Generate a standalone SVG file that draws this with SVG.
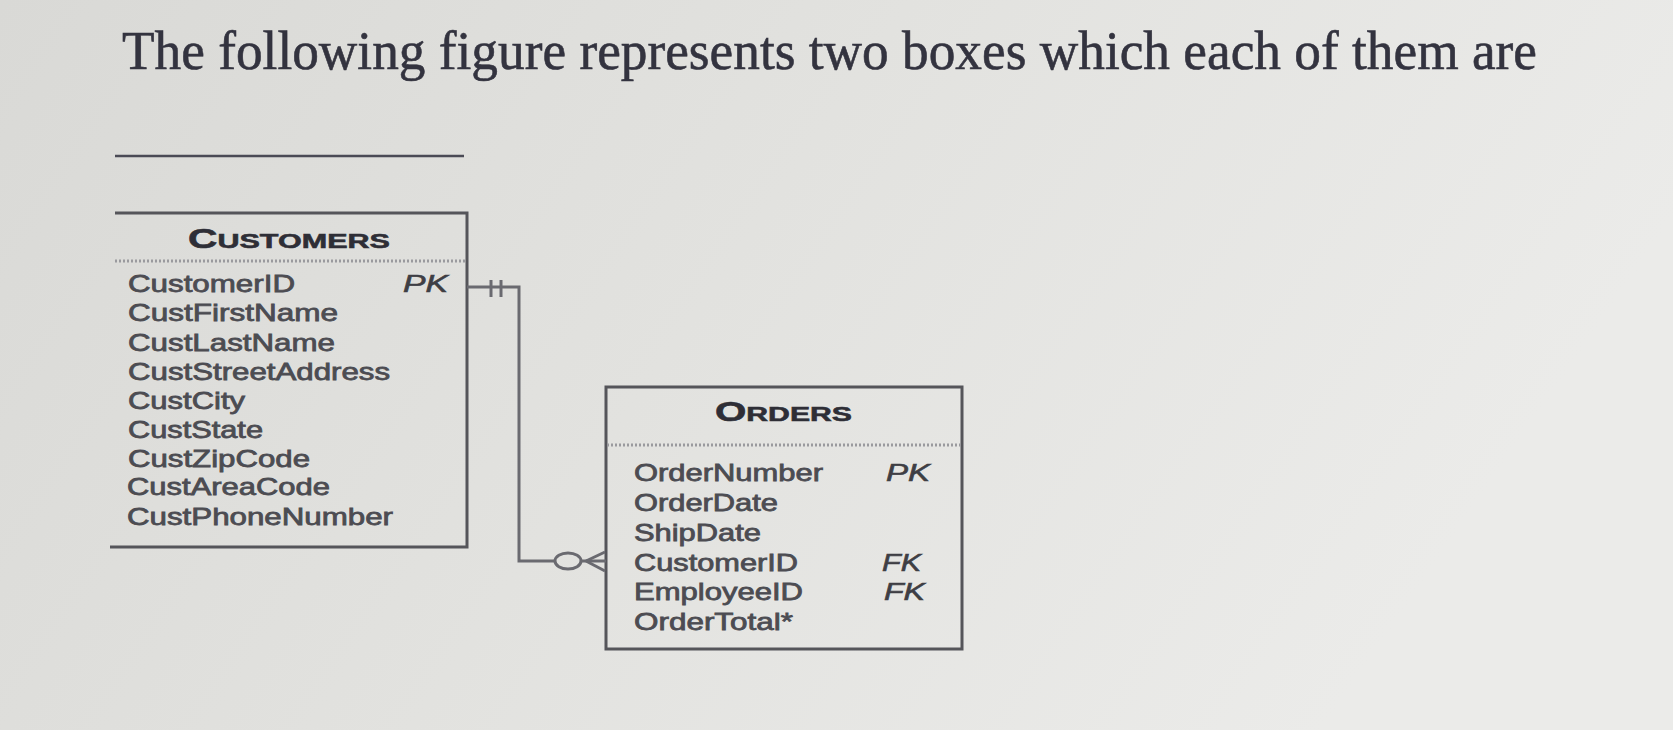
<svg xmlns="http://www.w3.org/2000/svg" width="1673" height="730" viewBox="0 0 1673 730">
<defs>
<linearGradient id="bg" x1="0" y1="0" x2="1" y2="0.3">
<stop offset="0" stop-color="#d9d9d6"/>
<stop offset="0.5" stop-color="#e2e2df"/>
<stop offset="1" stop-color="#ebebe9"/>
</linearGradient>
<style>
.title{font-family:"Liberation Serif","Times New Roman",serif;font-size:55px;fill:#33333f;stroke:#33333f;stroke-width:0.6}
.hdr{font-family:"Liberation Sans",Arial,sans-serif;font-weight:bold;fill:#2e2e36;stroke:#2e2e36;stroke-width:0.6}
.fld{font-family:"Liberation Sans",Arial,sans-serif;font-size:24px;fill:#4c4c52;stroke:#4c4c52;stroke-width:0.8}
.key{font-family:"Liberation Sans",Arial,sans-serif;font-size:24px;font-style:italic;fill:#3e3e44;stroke:#3e3e44;stroke-width:0.6}
.box{fill:none;stroke:#55555a;stroke-width:3}
.sep{stroke:#9a9a9e;stroke-width:3;stroke-dasharray:2 2}
.conn{fill:none;stroke:#6a6a70;stroke-width:3}
</style>
</defs>
<rect width="1673" height="730" fill="url(#bg)"/>
<text class="title" x="122" y="69" textLength="1415" lengthAdjust="spacingAndGlyphs">The following figure represents two boxes which each of them are</text>
<line x1="115" y1="156" x2="464" y2="156" stroke="#4a4a55" stroke-width="2.5"/>

<g id="customers">
<polyline class="box" points="115,213 467,213 467,547 110,547"/>
<line class="sep" x1="115" y1="261" x2="466" y2="261"/>
<text class="hdr" x="188" y="248" textLength="202" lengthAdjust="spacingAndGlyphs"><tspan font-size="28">C</tspan><tspan font-size="21">USTOMERS</tspan></text>
<text class="fld" x="128" y="292" textLength="167" lengthAdjust="spacingAndGlyphs">CustomerID</text>
<text class="key" x="403" y="292" textLength="45" lengthAdjust="spacingAndGlyphs">PK</text>
<text class="fld" x="128" y="321" textLength="210" lengthAdjust="spacingAndGlyphs">CustFirstName</text>
<text class="fld" x="128" y="351" textLength="207" lengthAdjust="spacingAndGlyphs">CustLastName</text>
<text class="fld" x="128" y="380" textLength="262" lengthAdjust="spacingAndGlyphs">CustStreetAddress</text>
<text class="fld" x="128" y="409" textLength="117" lengthAdjust="spacingAndGlyphs">CustCity</text>
<text class="fld" x="128" y="438" textLength="135" lengthAdjust="spacingAndGlyphs">CustState</text>
<text class="fld" x="128" y="467" textLength="182" lengthAdjust="spacingAndGlyphs">CustZipCode</text>
<text class="fld" x="127" y="495" textLength="203" lengthAdjust="spacingAndGlyphs">CustAreaCode</text>
<text class="fld" x="127" y="525" textLength="266" lengthAdjust="spacingAndGlyphs">CustPhoneNumber</text>
</g>

<g id="orders">
<rect class="box" x="606" y="387" width="356" height="262"/>
<line class="sep" x1="607" y1="445" x2="961" y2="445"/>
<text class="hdr" x="715" y="421" textLength="137" lengthAdjust="spacingAndGlyphs"><tspan font-size="28">O</tspan><tspan font-size="21">RDERS</tspan></text>
<text class="fld" x="634" y="481" textLength="189" lengthAdjust="spacingAndGlyphs">OrderNumber</text>
<text class="key" x="886" y="481" textLength="44" lengthAdjust="spacingAndGlyphs">PK</text>
<text class="fld" x="634" y="511" textLength="144" lengthAdjust="spacingAndGlyphs">OrderDate</text>
<text class="fld" x="634" y="541" textLength="127" lengthAdjust="spacingAndGlyphs">ShipDate</text>
<text class="fld" x="634" y="571" textLength="164" lengthAdjust="spacingAndGlyphs">CustomerID</text>
<text class="key" x="882" y="571" textLength="39" lengthAdjust="spacingAndGlyphs">FK</text>
<text class="fld" x="634" y="600" textLength="169" lengthAdjust="spacingAndGlyphs">EmployeeID</text>
<text class="key" x="884" y="600" textLength="41" lengthAdjust="spacingAndGlyphs">FK</text>
<text class="fld" x="634" y="630" textLength="159" lengthAdjust="spacingAndGlyphs">OrderTotal*</text>
</g>

<g id="connectors">
<polyline class="conn" points="467,287 519,287 519,561 555,561"/>
<line class="conn" x1="491" y1="280" x2="491" y2="297"/>
<line class="conn" x1="501" y1="280" x2="501" y2="297"/>
<ellipse class="conn" cx="568" cy="561" rx="13" ry="8"/>
<line class="conn" x1="581" y1="561" x2="606" y2="561"/>
<line class="conn" x1="586" y1="561" x2="605" y2="552"/>
<line class="conn" x1="586" y1="561" x2="605" y2="571"/>
</g>
</svg>
